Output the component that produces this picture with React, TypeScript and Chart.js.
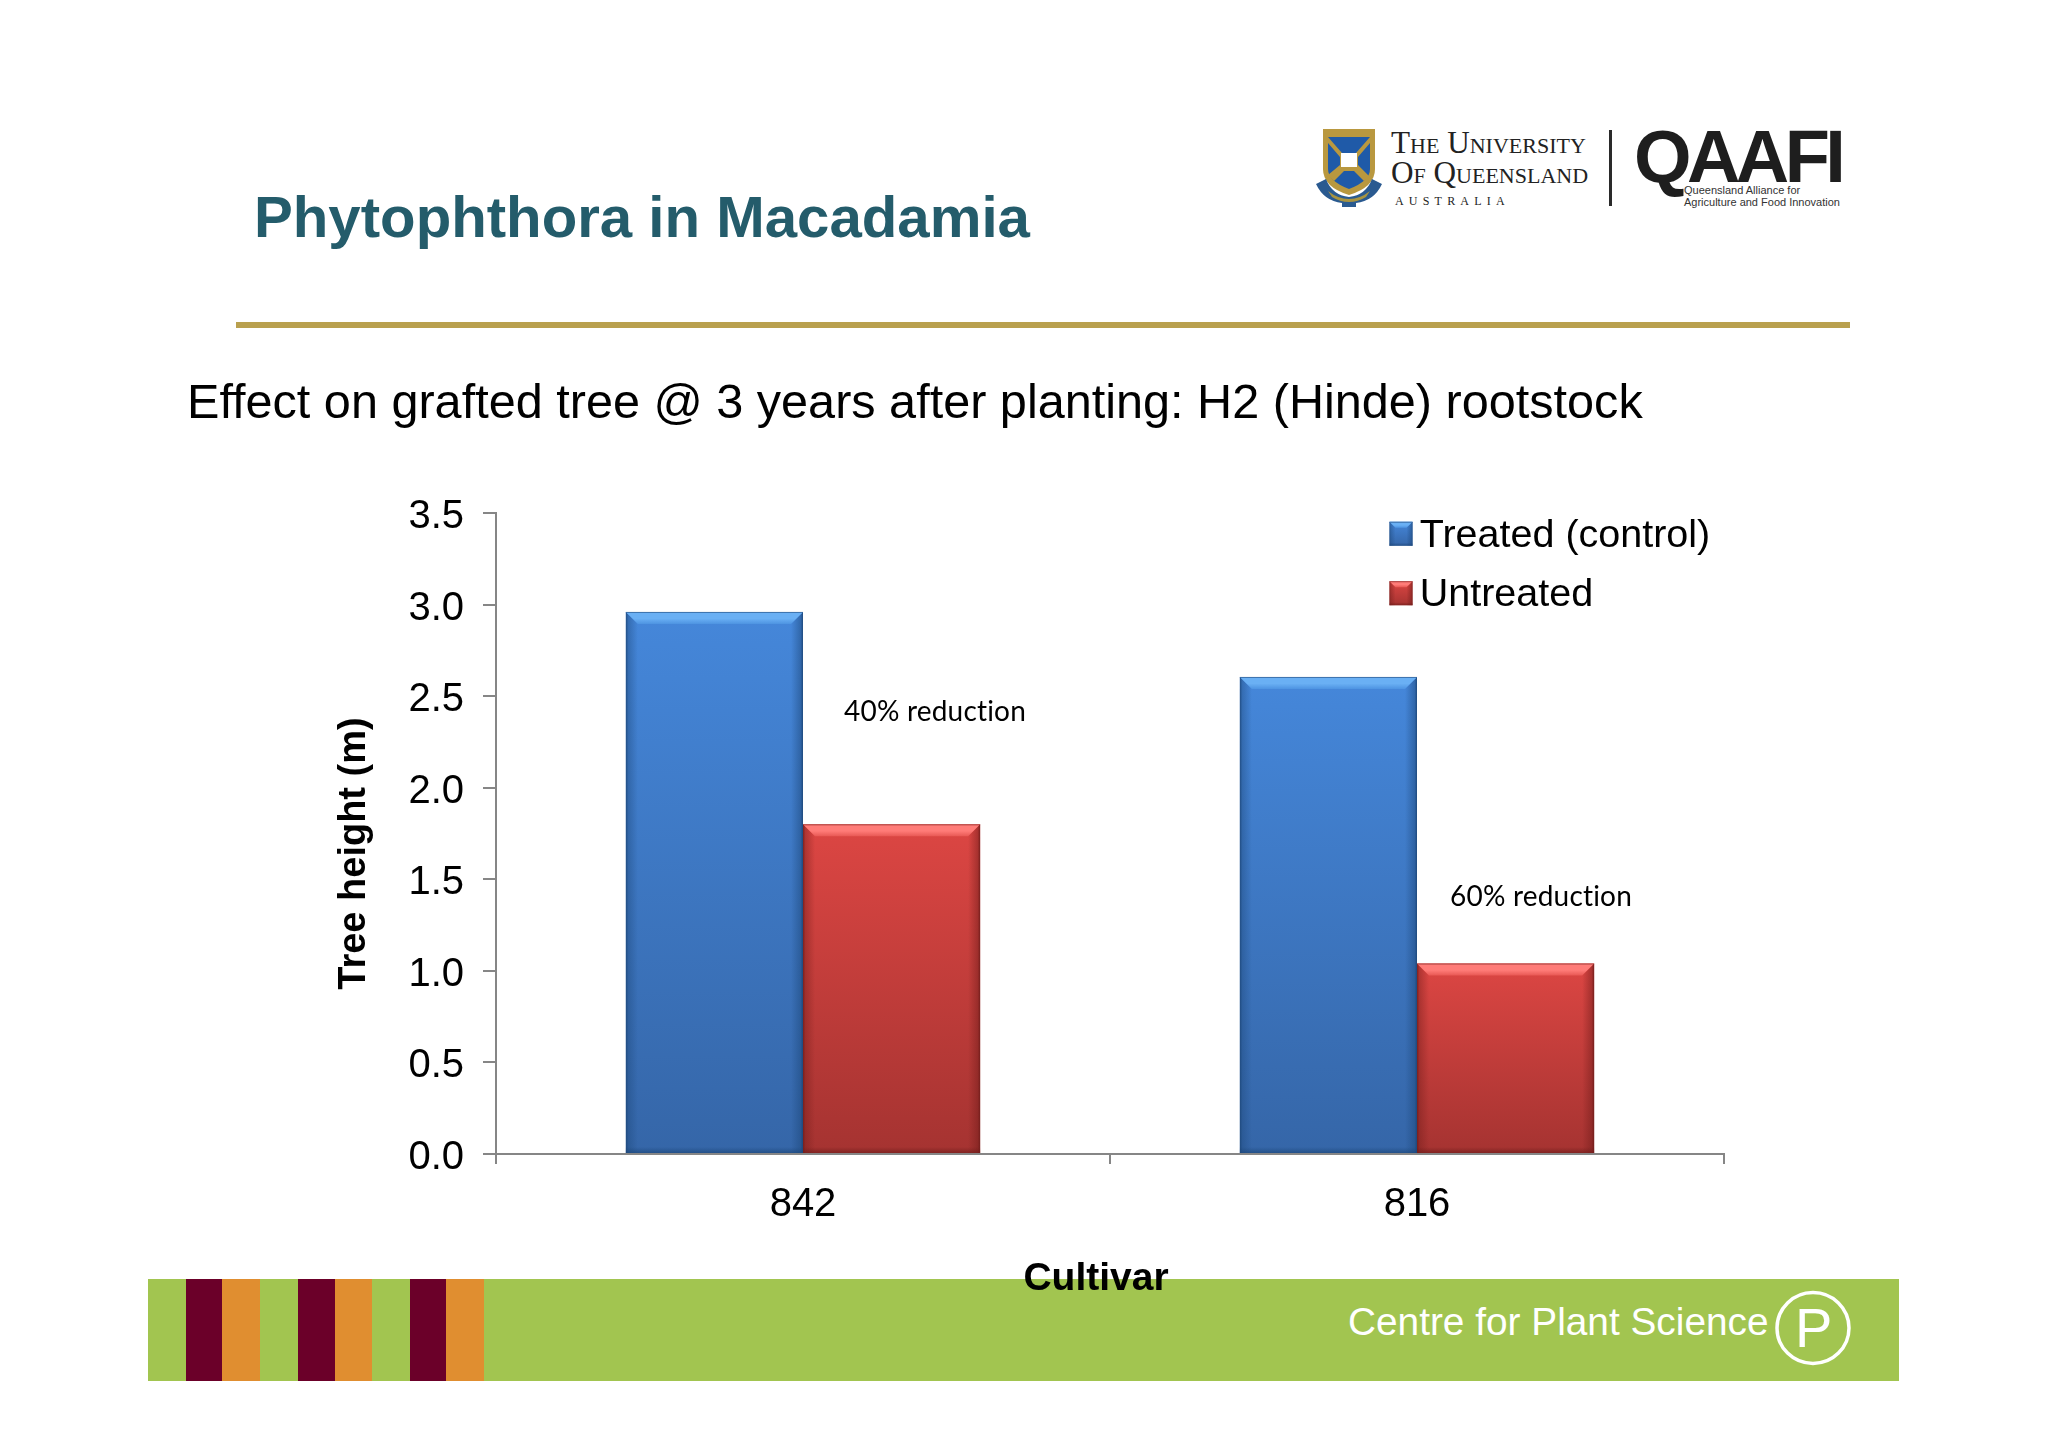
import React, { useEffect, useRef } from "react";
import { Chart, registerables } from "chart.js";

Chart.register(...registerables);

const categories = ["842", "816"];
const treated = [2.96, 2.605];
const untreated = [1.8, 1.04];
const seriesNames = ["Treated (control)", "Untreated"];
const yTicks = [0, 0.5, 1, 1.5, 2, 2.5, 3, 3.5];
const notes = ["40% reduction", "60% reduction"];
const noteValues = [2.415, 1.405];

const SANS = "'Liberation Sans', Arial, sans-serif";
const palette = [
  { top: "#4587da", bottom: "#3566a8", light: "#6ab0f4", mid: "#4e94e2", dark: "#1c4678" },
  { top: "#dc4643", bottom: "#a53331", light: "#ff7c78", mid: "#e85854", dark: "#701c1a" },
];

function shade(ctx: CanvasRenderingContext2D, pts: number[][], fill: any) {
  ctx.beginPath();
  pts.forEach((p, i) => (i ? ctx.lineTo(p[0], p[1]) : ctx.moveTo(p[0], p[1])));
  ctx.closePath();
  ctx.fillStyle = fill;
  ctx.fill();
}

function bevel(ctx: CanvasRenderingContext2D, l: number, t: number, r: number, b: number, c: any, s: number) {
  const inset = s * 2;
  const edgeL = ctx.createLinearGradient(l, 0, l + inset, 0);
  edgeL.addColorStop(0, c.dark + "dd");
  edgeL.addColorStop(0.2, c.dark + "66");
  edgeL.addColorStop(1, c.dark + "00");
  shade(ctx, [[l, t], [l + inset, t + inset], [l + inset, b], [l, b]], edgeL);
  const edgeR = ctx.createLinearGradient(r, 0, r - inset, 0);
  edgeR.addColorStop(0, c.dark + "ee");
  edgeR.addColorStop(0.2, c.dark + "77");
  edgeR.addColorStop(1, c.dark + "00");
  shade(ctx, [[r, t], [r - inset, t + inset], [r - inset, b], [r, b]], edgeR);
  const edgeT = ctx.createLinearGradient(0, t, 0, t + inset);
  edgeT.addColorStop(0, c.light);
  edgeT.addColorStop(0.55, c.light);
  edgeT.addColorStop(1, c.mid);
  shade(ctx, [[l, t], [r, t], [r - inset, t + inset], [l + inset, t + inset]], edgeT);
  ctx.fillStyle = c.dark + "99";
  ctx.fillRect(l, t, r - l, Math.min(1, s / 3));
  const edgeB = ctx.createLinearGradient(0, b, 0, b - s);
  edgeB.addColorStop(0, c.dark + "aa");
  edgeB.addColorStop(1, c.dark + "00");
  shade(ctx, [[l, b], [r, b], [r, b - s], [l, b - s]], edgeB);
}

const fillFor = (i: number) => (c: any) => {
  const yScale = c.chart.scales.y;
  const raw = c.dataset?.data?.[c.dataIndex];
  if (!yScale || raw == null) return palette[i].top;
  const zero = yScale.getPixelForValue(0);
  const top = yScale.getPixelForValue(raw);
  if (!Number.isFinite(zero) || !Number.isFinite(top)) return palette[i].top;
  const g = c.chart.ctx.createLinearGradient(0, top, 0, zero);
  g.addColorStop(0, palette[i].top);
  g.addColorStop(1, palette[i].bottom);
  return g;
};

const nudgeTitle = (scale: any, dx: number, dy: number) => {
  if (scale.__nudged) return;
  scale.__nudged = true;
  const draw = scale.drawTitle;
  scale.drawTitle = function () {
    const ctx = this.ctx;
    ctx.save();
    ctx.translate(dx, dy);
    draw.call(this);
    ctx.restore();
  };
};

const slidePlugin = {
  id: "slideDetails",
  afterLayout(chart: any) {
    const lg = chart.legend;
    lg.left = 1376;
    lg.right = lg.left + lg.width;
    lg.top = 496;
    lg.bottom = lg.top + lg.height;
    lg.adjustHitBoxes();
  },
  afterDatasetsDraw(chart: any) {
    const ctx = chart.ctx;
    chart.data.datasets.forEach((_: any, i: number) => {
      chart.getDatasetMeta(i).data.forEach((bar: any) => {
        bevel(ctx, bar.x - bar.width / 2, bar.y, bar.x + bar.width / 2, bar.base, palette[i], 6);
      });
    });
    const { x, y } = chart.scales;
    ctx.save();
    ctx.font = "28px Lato, sans-serif";
    (ctx as any).letterSpacing = "0.2px";
    ctx.fillStyle = "#000";
    ctx.textAlign = "left";
    ctx.textBaseline = "middle";
    notes.forEach((t, i) => {
      const left = x.getPixelForValue(i) + (i === 0 ? 41 : 33);
      ctx.fillText(t, left, y.getPixelForValue(noteValues[i]));
    });
    ctx.restore();
    const lg = chart.legend;
    lg.legendHitBoxes.forEach((h: any, i: number) => {
      const l = lg.left + 13.5;
      const t = h.top + h.height / 2 - 14;
      const g = ctx.createLinearGradient(0, t, 0, t + 24);
      g.addColorStop(0, palette[i].top);
      g.addColorStop(1, palette[i].bottom);
      ctx.fillStyle = g;
      ctx.fillRect(l, t, 23, 24);
      bevel(ctx, l, t, l + 23, t + 24, palette[i], 3);
    });
  },
};

function Txt({ x, y, style, children }: any) {
  return (
    <div style={{ position: "absolute", left: x, top: y, whiteSpace: "nowrap", lineHeight: 1, fontFamily: SANS, ...style }}>
      {children}
    </div>
  );
}

function Box({ x, y, w, h, c }: any) {
  return <div style={{ position: "absolute", left: x, top: y, width: w, height: h, background: c }} />;
}

const stripes = [
  [185.5, 36.5, "#6b0029"],
  [222, 38, "#e08e30"],
  [298, 37, "#6b0029"],
  [335, 37, "#e08e30"],
  [410, 36, "#6b0029"],
  [446, 38, "#e08e30"],
] as const;

export default function App() {
  const ref = useRef<HTMLCanvasElement>(null);
  useEffect(() => {
    const chart = new Chart(ref.current as HTMLCanvasElement, {
      type: "bar",
      data: {
        labels: categories,
        datasets: [
          { label: seriesNames[0], data: treated, backgroundColor: fillFor(0) as any },
          { label: seriesNames[1], data: untreated, backgroundColor: fillFor(1) as any },
        ],
      },
      options: {
        responsive: false,
        animation: false,
        devicePixelRatio: 1,
        layout: { padding: { left: 1, top: 513, right: 324, bottom: 143 } },
        datasets: { bar: { barPercentage: 1, categoryPercentage: 0.577 } },
        plugins: {
          title: { display: false },
          tooltip: { enabled: false },
          legend: {
            display: true,
            position: "chartArea",
            align: "start",
            labels: {
              color: "#000",
              font: { family: SANS, size: 39.5 },
              boxWidth: 4,
              boxHeight: 20,
              padding: 20,
              generateLabels: () =>
                seriesNames.map((text, i) => ({
                  text,
                  datasetIndex: i,
                  fillStyle: "rgba(0,0,0,0)",
                  strokeStyle: "rgba(0,0,0,0)",
                  lineWidth: 0,
                })),
            },
          },
        },
        scales: {
          x: {
            afterFit: (s: any) => { s.height = 150; },
            afterUpdate: (s: any) => nudgeTitle(s, -14, 0),
            grid: { drawOnChartArea: false, color: "#868686", lineWidth: 2, tickLength: 10, offset: true },
            border: { color: "#868686", width: 2 },
            ticks: { color: "#000", font: { family: SANS, size: 40 }, padding: 17, maxRotation: 0 },
            title: { display: true, text: "Cultivar", color: "#000", font: { family: SANS, size: 39, weight: "bold" }, padding: { top: 10, bottom: 1 } },
          },
          y: {
            min: 0,
            max: 3.5,
            afterFit: (s: any) => { s.width = 495; },
            afterBuildTicks: (s: any) => { s.ticks = yTicks.map((value) => ({ value })); },
            afterUpdate: (s: any) => nudgeTitle(s, 331, 20),
            grid: { drawOnChartArea: false, color: "#868686", lineWidth: 2, tickLength: 13 },
            border: { color: "#868686", width: 2 },
            ticks: { color: "#000", font: { family: SANS, size: 40 }, padding: 19, labelOffset: 4, callback: (v: any) => Number(v).toFixed(1) },
            title: { display: true, text: "Tree height (m)", color: "#000", font: { family: SANS, size: 38, weight: "bold" }, padding: 0 },
          },
        },
      },
      plugins: [slidePlugin],
    });
    return () => chart.destroy();
  }, []);

  return (
    <div style={{ position: "absolute", left: 0, top: 0, width: 2048, height: 1447, background: "#fff", overflow: "hidden" }}>
      <Txt x={254} y={188} style={{ fontSize: 58.2, fontWeight: 700, color: "#245c6b" }}>Phytophthora in Macadamia</Txt>
      <Box x={236} y={322} w={1614} h={6} c="#b9a04e" />
      <Txt x={187} y={377} style={{ fontSize: 48.6, color: "#000" }}>Effect on grafted tree @ 3 years after planting: H2 (Hinde) rootstock</Txt>

      <svg style={{ position: "absolute", left: 1316, top: 129 }} width={68} height={78} viewBox="0 0 68 78">
        <path d="M7 0H59V40Q59 58 33 66Q7 58 7 40Z" fill="#b9983f" />
        <path d="M12 8H54V40Q54 52 33 60Q12 52 12 40Z" fill="#1f5aa8" />
        <path d="M12 8L26 24H40L54 8V14L42 28V36L54 48L48 52L38 42H28L18 52L12 46L24 36V28L12 14Z" fill="#b9983f" />
        <rect x="25" y="24" width="16" height="14" fill="#fff" />
        <path d="M0 55L10 50Q16 66 33 68Q50 66 56 50L66 55Q58 72 40 74V78H26V74Q8 72 0 55Z" fill="#2a5a90" />
        <path d="M12 62Q22 70 33 70Q44 70 54 62L50 68Q42 73 33 73Q24 73 16 68Z" fill="#a89440" />
      </svg>
      <Txt x={1391} y={127} style={{ fontFamily: "'Liberation Serif', serif", fontSize: 31.2, fontVariant: "small-caps", color: "#222" }}>The University</Txt>
      <Txt x={1391} y={157} style={{ fontFamily: "'Liberation Serif', serif", fontSize: 31.2, fontVariant: "small-caps", color: "#222" }}>Of Queensland</Txt>
      <Txt x={1395} y={195} style={{ fontFamily: "'Liberation Serif', serif", fontSize: 12, letterSpacing: 5.2, color: "#222" }}>AUSTRALIA</Txt>
      <Box x={1608.5} y={130} w={3} h={76} c="#2a2a2a" />
      <Txt x={1634} y={120} style={{ fontSize: 74, fontWeight: 700, letterSpacing: -4.6, color: "#1e1e1e" }}>QAAFI</Txt>
      <Txt x={1684} y={185} style={{ fontSize: 11, color: "#333" }}>Queensland Alliance for</Txt>
      <Txt x={1684} y={197} style={{ fontSize: 11, color: "#333" }}>Agriculture and Food Innovation</Txt>

      <Box x={148} y={1279} w={1751} h={102} c="#a2c550" />
      {stripes.map(([x, w, c], i) => (
        <Box key={i} x={x} y={1279} w={w} h={102} c={c} />
      ))}
      <Txt x={1348} y={1303} style={{ fontSize: 38.8, color: "#fff" }}>Centre for Plant Science</Txt>
      <svg style={{ position: "absolute", left: 1773, top: 1288 }} width={80} height={80}>
        <ellipse cx="40" cy="40" rx="36" ry="35.5" fill="none" stroke="#fff" strokeWidth="3.5" />
      </svg>
      <Txt x={1795} y={1300} style={{ fontSize: 56, color: "#fff" }}>P</Txt>

      <canvas ref={ref} width={2048} height={1447} style={{ position: "absolute", left: 0, top: 0, width: 2048, height: 1447 }} />
    </div>
  );
}
